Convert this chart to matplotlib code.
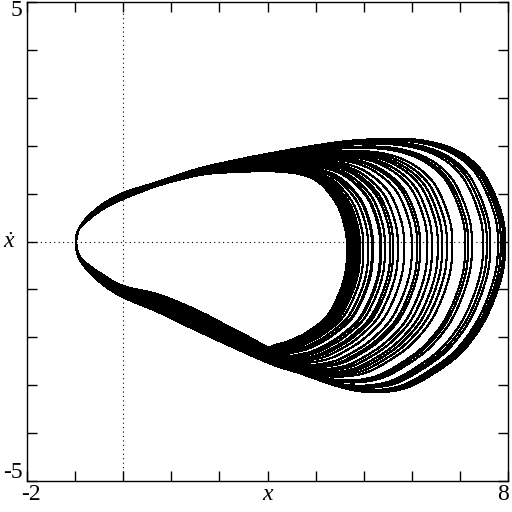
import numpy as np
import matplotlib.pyplot as plt
from matplotlib.path import Path
from matplotlib.patches import PathPatch
from matplotlib import font_manager

serif_path = font_manager.findfont(font_manager.FontProperties(family='Liberation Serif'))
italic_path = font_manager.findfont(font_manager.FontProperties(family='Liberation Serif', style='italic'))
fp = font_manager.FontProperties(fname=serif_path, size=17)
fpi = font_manager.FontProperties(fname=italic_path, size=17)

# smallest loop of the attractor (x, xdot), clockwise from the left tip
inner_x = [-0.98, -0.90, -0.48, 0.00, 0.77, 1.60, 2.28, 2.99, 3.50, 3.88, 4.15, 4.36, 4.49,
           4.57, 4.64, 4.67, 4.65, 4.51, 4.24, 3.82, 3.60, 3.41, 3.20, 2.99, 2.64, 2.10,
           1.60, 0.77, 0.00, -0.48, -0.84, -0.94, -0.98]
inner_y = [0.00, 0.28, 0.64, 0.89, 1.18, 1.39, 1.45, 1.47, 1.44, 1.35, 1.18, 0.93, 0.72,
           0.51, 0.24, -0.03, -0.59, -1.08, -1.58, -1.91, -2.02, -2.10, -2.16, -2.20, -2.01,
           -1.73, -1.47, -1.12, -0.93, -0.66, -0.39, -0.22, 0.00]

# largest loop, same point order
outer_x = [-0.98, -0.86, -0.48, 0.00, 0.77, 1.60, 2.64, 3.68, 4.72, 5.75, 6.44, 7.00, 7.42,
           7.69, 7.88, 7.92, 7.88, 7.69, 7.42, 7.00, 6.44, 5.90, 5.34, 4.78, 4.24, 3.68,
           2.99, 1.60, 0.77, 0.00, -0.48, -0.90, -0.98]
outer_y = [0.00, 0.37, 0.74, 1.01, 1.26, 1.53, 1.76, 1.95, 2.10, 2.14, 2.06, 1.85, 1.49,
           1.01, 0.45, -0.03, -0.59, -1.22, -1.78, -2.33, -2.75, -3.04, -3.14, -3.10, -2.95,
           -2.75, -2.52, -1.89, -1.49, -1.16, -0.85, -0.39, 0.00]

# where each loop crosses xdot = 0 on the right, in visiting order
loop_right_x = [5.17, 4.70, 6.32, 4.84, 7.48, 4.72, 5.55, 4.65, 6.84, 4.78, 5.36, 7.90, 4.74,
                6.00, 4.88, 7.11, 4.67, 5.09, 6.54, 4.80, 7.63, 5.44, 4.76, 6.17, 4.92, 7.94,
                5.19, 4.82, 6.73, 5.71, 4.99, 7.25, 4.86, 6.11, 5.34, 7.56, 5.61, 6.42, 7.85,
                5.84, 7.17, 6.63, 7.79, 4.69, 4.73, 4.75, 4.81, 4.85, 4.90]

ix, iy = np.array(inner_x), np.array(inner_y)
ox, oy = np.array(outer_x), np.array(outer_y)
k = 15  # index of the right-hand crossing

pts = []
for xr in loop_right_x:
    t = (xr - ix[k]) / (ox[k] - ix[k])
    lx = ix + t * (ox - ix)
    ly = iy + t * (oy - iy)
    pts.extend(zip(lx[:-1], ly[:-1]))
pts.append((ix[0], iy[0]))
P = np.array(pts)

# smooth curve through the points (Catmull-Rom as cubic Bezier)
n = len(P)
verts = [P[0]]
codes = [Path.MOVETO]
for i in range(n - 1):
    p0 = P[max(i - 1, 0)]
    p1 = P[i]
    p2 = P[i + 1]
    p3 = P[min(i + 2, n - 1)]
    verts += [p1 + (p2 - p0) / 6, p2 - (p3 - p1) / 6, p2]
    codes += [Path.CURVE4] * 3

fig = plt.figure(figsize=(5.12, 5.12), dpi=100)
ax = fig.add_axes([27 / 512, 31 / 512, 481 / 512, 479 / 512])

ax.axvline(0, color='black', lw=0.8, ls=(0, (1, 3)), zorder=1)
ax.axhline(0, color='black', lw=0.8, ls=(0, (1, 3)), zorder=1)
ax.add_patch(PathPatch(Path(verts, codes), fill=False, ec='black', lw=0.8,
                       antialiased=False, zorder=2))

ax.set_xlim(-2, 8)
ax.set_ylim(-5, 5)
ax.set_xticks(range(-2, 9))
ax.set_yticks(range(-5, 6))
ax.set_xticklabels([])
ax.set_yticklabels([])
ax.tick_params(direction='in', length=7.5, width=1, top=True, right=True)
for s in ax.spines.values():
    s.set_linewidth(1)

# axis end values and axis names
tr_x = ax.get_xaxis_transform()
tr_y = ax.get_yaxis_transform()
ax.text(-1.92, -0.006, '-2', transform=tr_x, ha='center', va='top',
        fontproperties=fp, clip_on=False)
ax.text(8.02, -0.006, '8', transform=tr_x, ha='right', va='top',
        fontproperties=fp, clip_on=False)
ax.text(3, -0.006, 'x', transform=tr_x, ha='center', va='top',
        fontproperties=fpi, clip_on=False)
ax.text(-0.01, 5.05, '5', transform=tr_y, ha='right', va='top',
        fontproperties=fp, clip_on=False)
ax.text(-0.008, -5.05, '-5', transform=tr_y, ha='right', va='bottom',
        fontproperties=fp, clip_on=False)
ax.text(-0.028, 0, '\u1e8b', transform=tr_y, ha='right', va='center',
        fontproperties=fpi, clip_on=False)

fig.savefig('out.png', dpi=100)
